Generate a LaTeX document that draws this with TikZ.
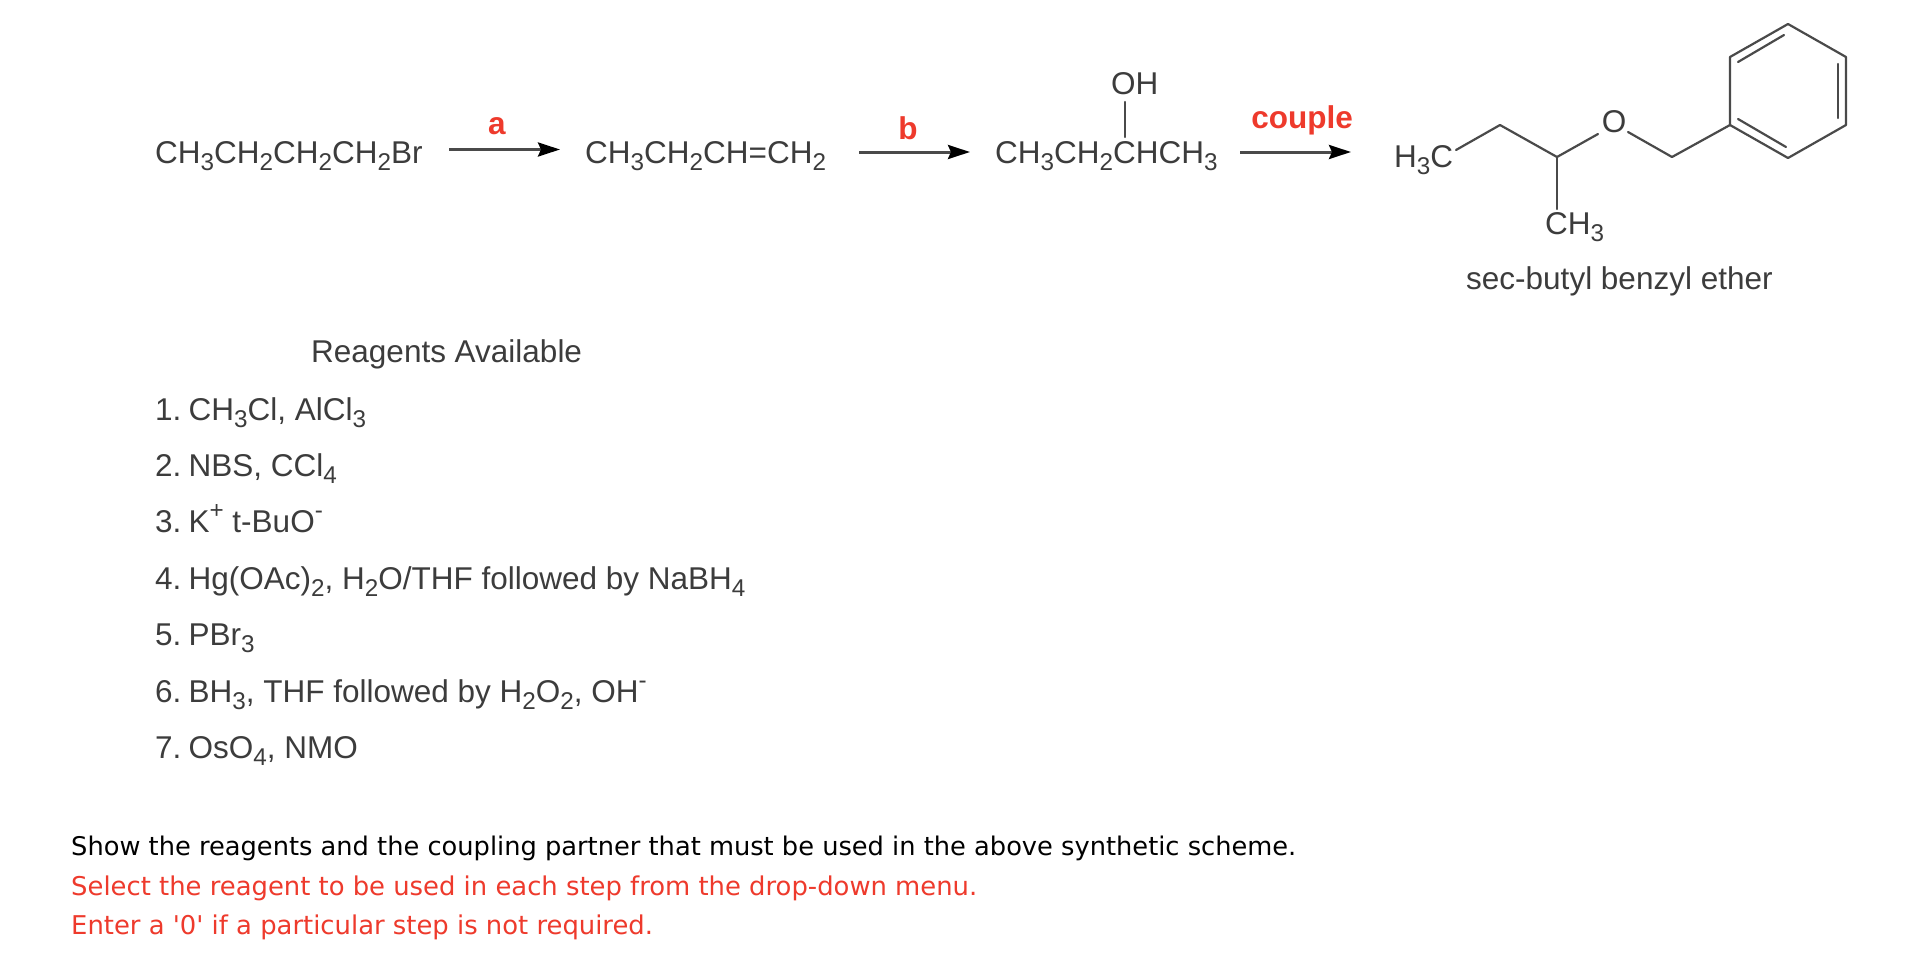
\documentclass[tikz,border=0pt]{standalone}
\usepackage{fontspec}
\setmainfont{Liberation Sans}
\newfontfamily\webfont{DejaVu Sans}
\usetikzlibrary{arrows.meta}
\definecolor{inkgray}{HTML}{3C3C3C}
\definecolor{bondgray}{HTML}{4A4A4A}
\definecolor{alertred}{HTML}{EE3A2C}
\newcommand{\chb}[1]{\raisebox{-0.24em}{\scalebox{0.77}{#1}}}
\newcommand{\chp}[1]{\raisebox{0.42em}{\scalebox{0.77}{#1}}}
\newcommand{\lsp}{\hspace{0.225em}}
\tikzset{
  chem/.style={inner sep=0pt,anchor=base west,text=inkgray,font=\fontsize{31.5}{33}\selectfont},
  steplabel/.style={inner sep=0pt,anchor=base,text=alertred,font=\fontsize{31.5}{33}\selectfont\bfseries},
  note/.style={inner sep=0pt,anchor=base west,font=\fontsize{25.7}{30}\selectfont\webfont},
  redNote/.style={inner sep=0pt,anchor=base west,text=alertred,font=\fontsize{25.85}{30}\selectfont\webfont},
  bond/.style={draw=bondgray,line width=2.2pt,line cap=round,line join=round},
  rxn/.style={draw=bondgray,line width=3pt,-{Stealth[length=22pt,width=14pt,inset=3pt,color=black]}}
}
\begin{document}
\begin{tikzpicture}[x=1pt,y=-1pt]
\useasboundingbox[fill=white] (0,0) rectangle (1920,966);
% scheme
\node[chem] (r1) at (155,163) {CH\chb{3}CH\chb{2}CH\chb{2}CH\chb{2}Br};
\node[chem] (r2) at (585,163) {CH\chb{3}CH\chb{2}CH=CH\chb{2}};
\node[chem] (r3) at (995,163) {CH\chb{3}CH\chb{2}CHCH\chb{3}};
\node[chem] (oh) at (1111,94) {OH};
\coordinate (ohb) at (1125,102);
\coordinate (ohc) at (1125,137);
\draw[bond] (ohb) -- (ohc);
\coordinate (a1s) at (449,149.5); \coordinate (a1e) at (560,149.5);
\coordinate (a2s) at (859,152); \coordinate (a2e) at (970,152);
\coordinate (a3s) at (1240,152); \coordinate (a3e) at (1351,152);
\draw[rxn] (a1s) -- (a1e);
\draw[rxn] (a2s) -- (a2e);
\draw[rxn] (a3s) -- (a3e);
\node[steplabel] (la) at (497,134) {a};
\node[steplabel] (lb) at (908,139) {b};
\node[steplabel] (lc) at (1302,128) {couple};
% product
\node[chem] (hc) at (1394,167) {H\chb{3}C};
\node[chem] (ch) at (1545,234) {CH\chb{3}};
\node[chem,anchor=center] (ox) at (1614,122) {O};
\coordinate (c0) at (1456,150);
\coordinate (c1) at (1500,125);
\coordinate (c2) at (1557,157);
\coordinate (c2b) at (1557,209);
\coordinate (oa) at (1598,134);
\coordinate (ob) at (1628,132);
\coordinate (c3) at (1672,157);
\coordinate (p1) at (1730,125);
\coordinate (p2) at (1730,57);
\coordinate (p3) at (1788,24);
\coordinate (p4) at (1846,57);
\coordinate (p5) at (1846,125);
\coordinate (p6) at (1788,158);
\draw[bond] (c0) -- (c1) -- (c2) -- (oa);
\draw[bond] (c2) -- (c2b);
\draw[bond] (ob) -- (c3) -- (p1);
\draw[bond] (p1) -- (p2) -- (p3) -- (p4) -- (p5) -- (p6) -- cycle;
\coordinate (d1a) at (1738,62); \coordinate (d1b) at (1784,35);
\coordinate (d2a) at (1838,64); \coordinate (d2b) at (1838,118);
\coordinate (d3a) at (1738,119); \coordinate (d3b) at (1786,147);
\draw[bond] (d1a) -- (d1b);
\draw[bond] (d2a) -- (d2b);
\draw[bond] (d3a) -- (d3b);
\node[chem] (name) at (1466,289) {sec-butyl benzyl ether};
% reagents
\node[chem] (rt) at (311,362) {Reagents Available};
\node[chem] (l1) at (155,420) {1.\lsp CH\chb{3}Cl, AlCl\chb{3}};
\node[chem] (l2) at (155,476) {2.\lsp NBS, CCl\chb{4}};
\node[chem] (l3) at (155,532) {3.\lsp K\chp{+} t-BuO\chp{-}};
\node[chem] (l4) at (155,589) {4.\lsp Hg(OAc)\chb{2}, H\chb{2}O/THF followed by NaBH\chb{4}};
\node[chem] (l5) at (155,645) {5.\lsp PBr\chb{3}};
\node[chem] (l6) at (155,702) {6.\lsp BH\chb{3}, THF followed by H\chb{2}O\chb{2}, OH\chp{-}};
\node[chem] (l7) at (155,758) {7.\lsp OsO\chb{4}, NMO};
% footer
\node[note] (n1) at (71,855) {Show the reagents and the coupling partner that must be used in the above synthetic scheme.};
\node[redNote] (n2) at (71,895) {Select the reagent to be used in each step from the drop-down menu.};
\node[redNote] (n3) at (71,934) {Enter a '0' if a particular step is not required.};
\end{tikzpicture}
\end{document}
